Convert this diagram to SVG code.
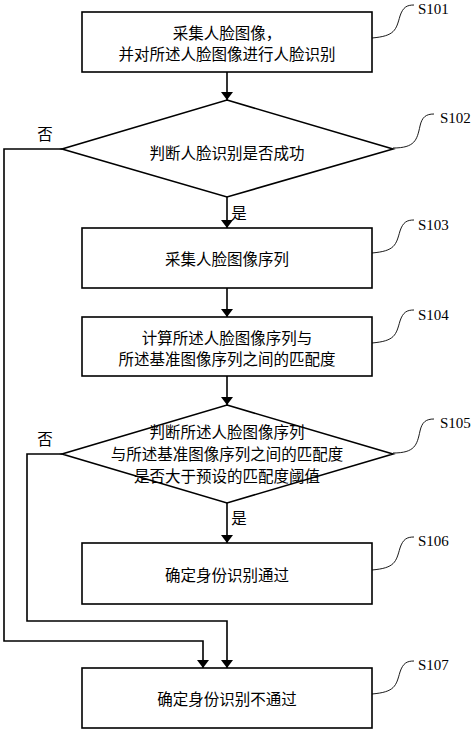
<svg xmlns="http://www.w3.org/2000/svg" width="474" height="731" viewBox="0 0 474 731">
<style>
.box{fill:#fff;stroke:#000;stroke-width:1.6}
.t{font-family:"Noto Sans CJK SC",sans-serif;font-size:15.5px;fill:#000;text-anchor:middle;dominant-baseline:central}
.lbl{font-family:"Liberation Serif",serif;font-size:15px;fill:#000}
.c{fill:none;stroke:#000;stroke-width:1.6}
.lead{fill:none;stroke:#000;stroke-width:0.9}
</style>
<defs>
<marker id="ah" viewBox="0 0 8 12" refX="8" refY="6" markerWidth="8" markerHeight="12" markerUnits="userSpaceOnUse" orient="auto">
<path d="M0,0 L8,6 L0,12 Z" fill="#000" transform="rotate(0)"/>
</marker>
</defs>
<rect width="474" height="731" fill="#fff"/>
<g id="connectors">
<line class="c" x1="227" y1="72" x2="227" y2="100" marker-end="url(#ah)"/>
<line class="c" x1="227" y1="197" x2="227" y2="228" marker-end="url(#ah)"/>
<line class="c" x1="227" y1="288" x2="227" y2="317" marker-end="url(#ah)"/>
<line class="c" x1="227" y1="376" x2="227" y2="405" marker-end="url(#ah)"/>
<line class="c" x1="227" y1="503" x2="227" y2="543" marker-end="url(#ah)"/>
<polyline class="c" points="62,149 4,149 4,641 203,641 203,668" marker-end="url(#ah)"/>
<polyline class="c" points="62,454 27,454 27,621 227,621 227,668" marker-end="url(#ah)"/>
<text class="t" x="45" y="133">否</text>
<text class="t" x="239" y="212">是</text>
<text class="t" x="45" y="438">否</text>
<text class="t" x="239" y="517">是</text>
</g>
<g id="S101">
<rect class="box" x="82" y="12" width="290" height="60"/>
<text class="t" x="227" y="32">采集人脸图像，</text>
<text class="t" x="227" y="53">并对所述人脸图像进行人脸识别</text>
<path class="lead" d="M372,38 C395,36 396,30 400,16 C403,7 407,5 414,5"/>
<text class="lbl" x="418" y="14">S101</text>
</g>
<g id="S102">
<polygon class="box" points="227,100 393,149 227,197 62,149"/>
<text class="t" x="227" y="152">判断人脸识别是否成功</text>
<path class="lead" d="M393,148 C415,148 417,140 420,126 C422,117 426,114 434,114"/>
<text class="lbl" x="440" y="123">S102</text>
</g>
<g id="S103">
<rect class="box" x="82" y="228" width="290" height="60"/>
<text class="t" x="227" y="258">采集人脸图像序列</text>
<path class="lead" d="M372,253 C395,251 396,245 400,231 C403,222 407,220 414,220"/>
<text class="lbl" x="418" y="230">S103</text>
</g>
<g id="S104">
<rect class="box" x="82" y="317" width="290" height="59"/>
<text class="t" x="227" y="337">计算所述人脸图像序列与</text>
<text class="t" x="227" y="358">所述基准图像序列之间的匹配度</text>
<path class="lead" d="M372,343 C395,341 396,335 400,321 C403,312 407,310 414,310"/>
<text class="lbl" x="418" y="320">S104</text>
</g>
<g id="S105">
<polygon class="box" points="227,405 393,454 227,503 62,454"/>
<text class="t" x="227" y="431">判断所述人脸图像序列</text>
<text class="t" x="227" y="453">与所述基准图像序列之间的匹配度</text>
<text class="t" x="227" y="475">是否大于预设的匹配度阈值</text>
<path class="lead" d="M393,453 C415,453 417,445 420,431 C422,422 426,419 434,419"/>
<text class="lbl" x="440" y="428">S105</text>
</g>
<g id="S106">
<rect class="box" x="82" y="543" width="290" height="61"/>
<text class="t" x="227" y="574">确定身份识别通过</text>
<path class="lead" d="M372,570 C395,568 396,562 400,548 C403,539 407,537 414,537"/>
<text class="lbl" x="418" y="546">S106</text>
</g>
<g id="S107">
<rect class="box" x="82" y="668" width="290" height="60"/>
<text class="t" x="227" y="698">确定身份识别不通过</text>
<path class="lead" d="M372,694 C395,692 396,686 400,672 C403,663 407,661 414,661"/>
<text class="lbl" x="418" y="670">S107</text>
</g>
</svg>
